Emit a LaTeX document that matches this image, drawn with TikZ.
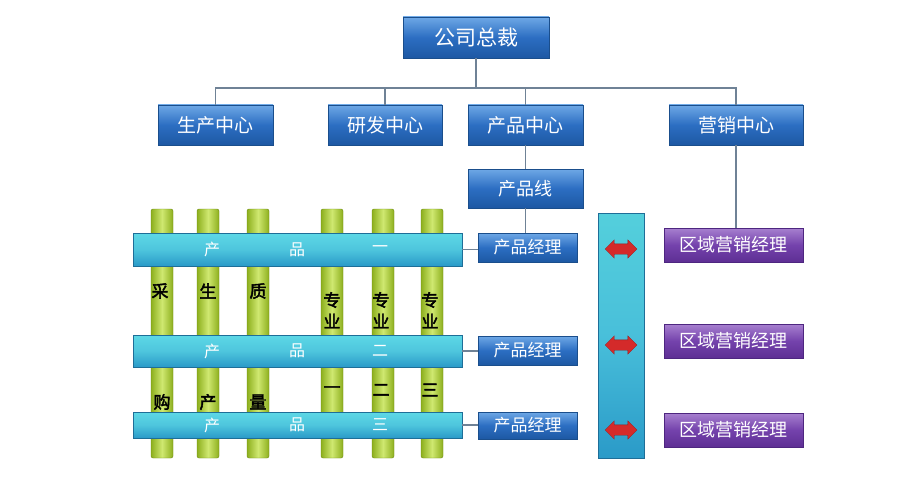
\documentclass[tikz,border=0pt]{standalone}
\usepackage{fontspec}
\setmainfont{Noto Sans CJK SC}[AutoFakeBold=2.5]
\usetikzlibrary{shapes.arrows,shadows}
\definecolor{bluetop}{HTML}{6EA8E6}
\definecolor{bluemid}{HTML}{2C6EC2}
\definecolor{bluebot}{HTML}{1D58A3}
\definecolor{blueedge}{HTML}{1A4E8C}
\definecolor{purtop}{HTML}{A780CF}
\definecolor{purmid}{HTML}{7442AC}
\definecolor{purbot}{HTML}{5E2F94}
\definecolor{puredge}{HTML}{4E2680}
\definecolor{cyantop}{HTML}{5DD8E6}
\definecolor{cyanbot}{HTML}{2A9AC8}
\definecolor{cyanedge}{HTML}{1E6E98}
\definecolor{grnside}{HTML}{8DAF1E}
\definecolor{grnmid}{HTML}{CFE870}
\definecolor{grnedge}{HTML}{6E8C12}
\definecolor{linec}{HTML}{6F8296}
\definecolor{arrowred}{HTML}{D42A2A}
\tikzset{
  bluebox/.style={draw=blueedge, line width=0.6pt, top color=bluetop, bottom color=bluebot, middle color=bluemid,
    text=white, inner sep=0pt, drop shadow={opacity=0.25, shadow xshift=1.2pt, shadow yshift=-1.2pt}},
  purbox/.style={draw=puredge, line width=0.6pt, top color=purtop, bottom color=purbot, middle color=purmid,
    text=white, inner sep=0pt, drop shadow={opacity=0.25, shadow xshift=1.2pt, shadow yshift=-1.2pt}},
  prodbar/.style={draw=cyanedge, line width=0.6pt, top color=cyantop, bottom color=cyanbot, middle color=cyantop!70!cyanbot,
    inner sep=0pt, drop shadow={opacity=0.25, shadow xshift=1pt, shadow yshift=-1pt}},
  column/.style={draw=grnedge, line width=0.4pt, left color=grnside, right color=grnside, middle color=grnmid,
    rounded corners=2pt, inner sep=0pt, minimum width=22pt, minimum height=249pt},
  coltext/.style={font=\fontsize{17}{17}\selectfont\bfseries, text=black, inner sep=0pt},
  bartext/.style={font=\fontsize{16}{16}\selectfont, text=white, inner sep=0pt},
  conn/.style={draw=linec, line width=1.4pt},
  redarrow/.style={double arrow, double arrow head extend=4pt, fill=arrowred, draw=arrowred!70!black, line width=0.3pt,
    minimum height=32pt, minimum width=0pt, inner xsep=0pt, inner ysep=5pt}
}
\begin{document}
\begin{tikzpicture}[x=1pt,y=-1pt]
\useasboundingbox[fill=white] (0,0) rectangle (910,492);

% top hierarchy
\node[bluebox, minimum width=146pt, minimum height=41pt, font=\fontsize{21}{21}\selectfont] (ceo) at (476,37.5) {公司总裁};
\node[bluebox, minimum width=115pt, minimum height=40pt, font=\fontsize{19}{19}\selectfont] (prod) at (215.5,125) {生产中心};
\node[bluebox, minimum width=114pt, minimum height=40pt, font=\fontsize{19}{19}\selectfont] (rd) at (385,125) {研发中心};
\node[bluebox, minimum width=115pt, minimum height=40pt, font=\fontsize{19}{19}\selectfont] (pc) at (525.5,125) {产品中心};
\node[bluebox, minimum width=134pt, minimum height=40pt, font=\fontsize{19}{19}\selectfont] (mk) at (736,125) {营销中心};
\node[bluebox, minimum width=115pt, minimum height=39pt, font=\fontsize{18}{18}\selectfont] (pl) at (525.5,188.5) {产品线};

\coordinate (hub) at (476,88);
\draw[conn] (ceo.south) -- (hub);
\draw[conn] (prod.north) |- (hub);
\draw[conn] (mk.north) |- (hub);
\draw[conn] (rd.north) -- (rd.north |- hub);
\draw[conn] (pc.north) -- (pc.north |- hub);
\draw[conn] (pc.south) -- (pl.north);

% green columns
\node[column] (c1) at (162,333.5) {};
\node[column] (c2) at (208,333.5) {};
\node[column] (c3) at (258,333.5) {};
\node[column] (c4) at (332,333.5) {};
\node[column] (c5) at (383,333.5) {};
\node[column] (c6) at (432,333.5) {};

% column texts
\node[coltext] (t1) at (160,291) {采};
\node[coltext] (t2) at (208,291) {生};
\node[coltext] (t3) at (258,291) {质};
\node[coltext] (t4) at (332,300) {专};
\node[coltext] (t5) at (332,321) {业};
\node[coltext] (t6) at (381,300) {专};
\node[coltext] (t7) at (381,321) {业};
\node[coltext] (t8) at (430,300) {专};
\node[coltext] (t9) at (430,321) {业};
\node[coltext] (t10) at (162,402) {购};
\node[coltext] (t11) at (208,402) {产};
\node[coltext] (t12) at (258,402) {量};
\node[coltext] (t13) at (332,390) {一};
\node[coltext] (t14) at (381,390) {二};
\node[coltext] (t15) at (430,390) {三};

% product bars
\node[prodbar, minimum width=329pt, minimum height=33pt] (b1) at (297.5,249.5) {};
\node[prodbar, minimum width=329pt, minimum height=32pt] (b2) at (297.5,351) {};
\node[prodbar, minimum width=329pt, minimum height=26pt] (b3) at (297.5,425) {};
\node[bartext] (b1a) at (212,249.5) {产};
\node[bartext] (b1b) at (297,249.5) {品};
\node[bartext] (b1c) at (380,249.5) {一};
\node[bartext] (b2a) at (212,351) {产};
\node[bartext] (b2b) at (297,351) {品};
\node[bartext] (b2c) at (380,351) {二};
\node[bartext] (b3a) at (212,425) {产};
\node[bartext] (b3b) at (297,425) {品};
\node[bartext] (b3c) at (380,425) {三};

% product managers
\node[bluebox, minimum width=99pt, minimum height=29pt, font=\fontsize{17}{17}\selectfont] (pm1) at (527.5,247.5) {产品经理};
\node[bluebox, minimum width=99pt, minimum height=29pt, font=\fontsize{17}{17}\selectfont] (pm2) at (527.5,350.5) {产品经理};
\node[bluebox, minimum width=99pt, minimum height=27pt, font=\fontsize{17}{17}\selectfont] (pm3) at (527.5,425.5) {产品经理};
\draw[conn] (pl.south) -- (pl.south |- pm1.north);
\draw[conn] (b1.east) -- (b1.east -| pm1.west);
\draw[conn] (b2.east) -- (b2.east -| pm2.west);
\draw[conn] (b3.east) -- (b3.east -| pm3.west);

% vertical cyan bar
\node[draw=cyanedge, line width=0.6pt, inner sep=0pt, minimum width=46pt, minimum height=245pt,
  top color=cyantop!90!teal, bottom color=cyanbot, middle color=cyantop!60!cyanbot,
  drop shadow={opacity=0.25, shadow xshift=1pt, shadow yshift=-1pt}] (vb) at (621,335.5) {};

% red arrows
\node[redarrow] (a1) at (621,249) {};
\node[redarrow] (a2) at (621,345) {};
\node[redarrow] (a3) at (621,430) {};

% regional marketing managers
\node[purbox, minimum width=139pt, minimum height=34pt, font=\fontsize{18}{18}\selectfont] (rm1) at (733.5,245) {区域营销经理};
\node[purbox, minimum width=139pt, minimum height=34pt, font=\fontsize{18}{18}\selectfont] (rm2) at (733.5,341) {区域营销经理};
\node[purbox, minimum width=139pt, minimum height=34pt, font=\fontsize{18}{18}\selectfont] (rm3) at (733.5,430) {区域营销经理};
\draw[conn] (mk.south) -- (mk.south |- rm1.north);
\end{tikzpicture}
\end{document}
